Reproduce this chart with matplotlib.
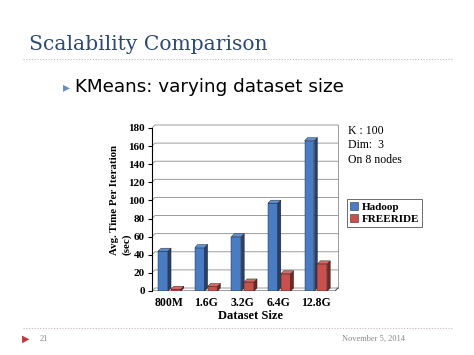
import matplotlib.pyplot as plt
from matplotlib.patches import Polygon

categories = ['800M', '1.6G', '3.2G', '6.4G', '12.8G']
hadoop = [44, 48, 60, 97, 166]
freeride = [2, 5, 10, 19, 30]
yticks = [0, 20, 40, 60, 80, 100, 120, 140, 160, 180]
notes = ['K : 100', 'Dim:  3', 'On 8 nodes']

serif = 'Liberation Serif'
DX, DY = 0.08, 3.3   # fake 3d depth (data units)
BW = 0.27

fig = plt.figure(figsize=(4.74, 3.55), dpi=100)
fig.patch.set_facecolor('white')

# slide decorations
fig.text(29/474, 1-45/355, 'Scalability Comparison', fontsize=14.6, family='DejaVu Serif',
         color='#2f4a70', va='center', ha='left')
fig.add_artist(plt.Line2D([23/474, 452/474], [1-59/355]*2, color='#c9b7b7', lw=0.8, ls=(0, (1, 1.5))))
fig.text(63/474, 1-87/355, '\u25b8', fontsize=10, color='#6d8cb5', va='center', ha='left')
fig.text(75/474, 1-87/355, 'KMeans: varying dataset size', fontsize=13.2, family='DejaVu Sans',
         color='black', va='center', ha='left')
fig.add_artist(plt.Line2D([23/474, 452/474], [1-328/355]*2, color='#c9b7b7', lw=0.8, ls=(0, (1, 1.5))))
fig.text(22/474, 1-339/355, '\u25b6', fontsize=7, color='#c0393b', va='center', ha='left')
fig.text(40/474, 1-339/355, '21', fontsize=6, family=serif, color='#888888', va='center')
fig.text(405/474, 1-339/355, 'November 5, 2014', fontsize=6, family=serif, color='#888888',
         va='center', ha='right')

ax = fig.add_axes([152/474, 0.1803, 0.3953, 0.4694])
ax.set_xlim(-0.5, 4.62)
ax.set_ylim(0, 184)
for s in ['top', 'right', 'bottom']:
    ax.spines[s].set_visible(False)
ax.spines['left'].set_bounds(0, 180)
ax.spines['left'].set_linewidth(0.8)

# back wall, floor and grid
for v in yticks:
    ax.plot([-0.5, -0.5+DX, 4.5+DX], [v, v+DY, v+DY], color='#8c8c8c', lw=0.6, zorder=1)
ax.plot([4.5+DX, 4.5+DX], [DY, 180+DY], color='#8c8c8c', lw=0.6, zorder=1)
ax.plot([-0.5, 4.5, 4.5+DX], [0, 0, DY], color='#555555', lw=0.8, zorder=1)


def bar3d(x, h, front, side, top):
    ax.add_patch(Polygon([(x, 0), (x+BW, 0), (x+BW, h), (x, h)], closed=True,
                         facecolor=front, edgecolor='#1a1a1a', lw=0.3, zorder=3))
    ax.add_patch(Polygon([(x+BW, 0), (x+BW+DX, DY), (x+BW+DX, h+DY), (x+BW, h)], closed=True,
                         facecolor=side, edgecolor='#1a1a1a', lw=0.3, zorder=3))
    ax.add_patch(Polygon([(x, h), (x+BW, h), (x+BW+DX, h+DY), (x+DX, h+DY)], closed=True,
                         facecolor=top, edgecolor='#1a1a1a', lw=0.3, zorder=3))


for i in range(len(categories)):
    bar3d(i-0.33, hadoop[i], '#4a7cc4', '#24406e', '#5f8fd4')
    bar3d(i+0.02, freeride[i], '#c8504d', '#7a2322', '#d46a66')

ax.set_yticks(yticks)
ax.set_yticklabels([str(v) for v in yticks], fontsize=8, family=serif, fontweight='bold')
ax.tick_params(axis='y', length=3, width=0.8, pad=2)
ax.set_xticks([i-0.03 for i in range(len(categories))])
ax.set_xticklabels(categories, fontsize=8.5, family=serif, fontweight='bold')
ax.tick_params(axis='x', length=0, pad=4)

fig.text(250/474, 1-316/355, 'Dataset Size', fontsize=9, family=serif, fontweight='bold',
         ha='center', va='center')
fig.text(114.5/474, 1-255/355, 'Avg. Time Per Iteration', fontsize=7.8, family=serif,
         fontweight='bold', rotation=90, ha='center', va='bottom')
fig.text(126.5/474, 1-255/355, '(sec)', fontsize=7.8, family=serif,
         fontweight='bold', rotation=90, ha='center', va='bottom')

# notes and legend
for k, t in enumerate(notes):
    fig.text(348/474, 1-(131+14.5*k)/355, t, fontsize=8.5, family=serif, va='center')

handles = [plt.Rectangle((0, 0), 1, 1, facecolor='#4a7cc4', edgecolor='#333333', lw=0.4),
           plt.Rectangle((0, 0), 1, 1, facecolor='#c8504d', edgecolor='#333333', lw=0.4)]
leg = fig.legend(handles, ['Hadoop', 'FREERIDE'], loc='upper left',
                 bbox_to_anchor=(347/474, 1-199/355), fancybox=False, framealpha=1,
                 edgecolor='#555555', prop={'family': serif, 'weight': 'bold', 'size': 8},
                 handlelength=0.7, handleheight=0.7, handletextpad=0.3, borderpad=0.3,
                 labelspacing=0.2, borderaxespad=0)
leg.get_frame().set_linewidth(0.6)

fig.savefig('out.png', dpi=100)
